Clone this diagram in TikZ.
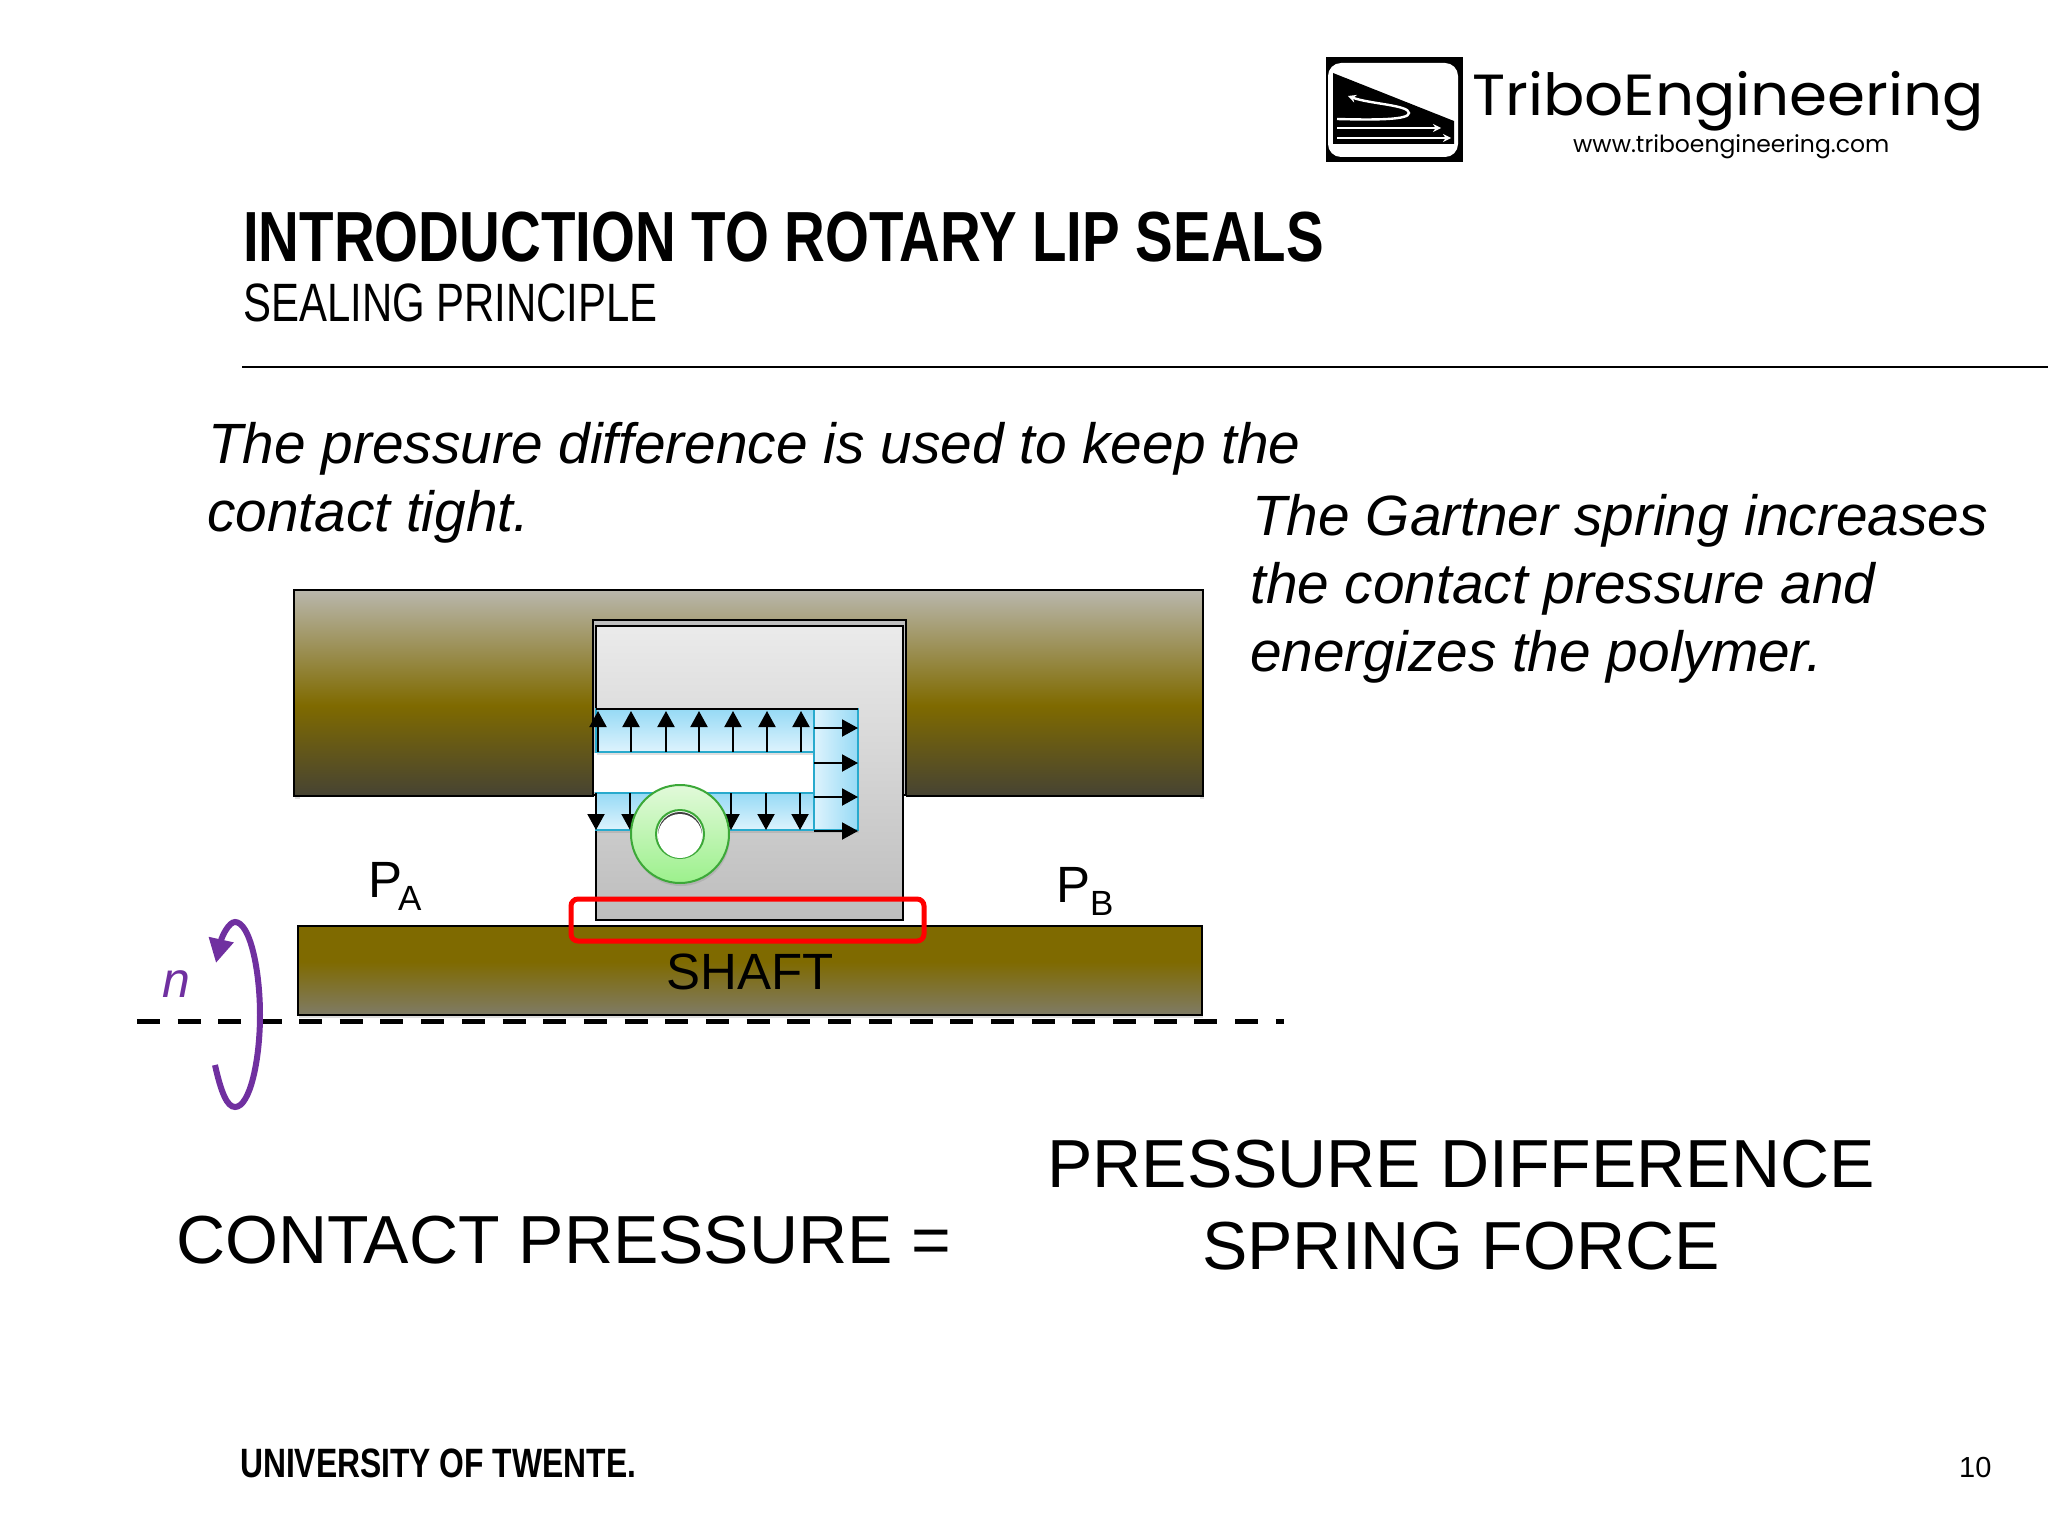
\documentclass[tikz,border=0pt]{standalone}
\usepackage{fontspec}
\setmainfont{Liberation Sans}
\newfontfamily\titlefont[FakeStretch=0.795]{Liberation Sans}
\newfontfamily\narrowfont[FakeStretch=0.776]{Liberation Sans}
\newfontfamily\logofont[FakeStretch=1.055]{Poppins}
\newfontfamily\sitefont{Poppins}
\usetikzlibrary{arrows.meta,positioning,shadows}
\definecolor{olive}{RGB}{127,106,0}
\definecolor{rotpurple}{RGB}{112,48,160}
\definecolor{bandedge}{RGB}{40,170,205}
\definecolor{bandlight}{RGB}{222,243,253}
\definecolor{banddark}{RGB}{150,218,245}
\pgfdeclareverticalshading{housingshade}{100bp}{color(0bp)=(black!75!olive!60!gray); color(25bp)=(black!75!olive!60!gray); color(47bp)=(olive); color(75bp)=(gray!50!white!90!olive); color(100bp)=(gray!50!white!90!olive)}
\pgfdeclareverticalshading{shaftshade}{100bp}{color(0bp)=(gray!80!olive); color(25bp)=(gray!80!olive); color(55bp)=(olive); color(75bp)=(olive); color(100bp)=(olive)}
\begin{document}
\begin{tikzpicture}[
  x=1pt,y=-1pt,
  softshadow/.style={drop shadow={shadow xshift=1pt,shadow yshift=-3pt,opacity=.25}},
  housingbox/.style={draw=black,line width=1.6pt,shading=housingshade,softshadow},
  shaftbox/.style={draw=black,line width=1.6pt,shading=shaftshade,softshadow},
  sealbox/.style={draw=black,line width=1.6pt,top color=black!8,bottom color=black!26},
  bandv/.style={draw=bandedge,line width=2pt,top color=banddark,bottom color=bandlight,softshadow},
  bandh/.style={draw=bandedge,line width=2pt,left color=bandlight,right color=banddark,softshadow},
  arr/.style={-{Triangle[length=16pt,width=17pt]},line width=2pt},
  logoarr/.style={-{Stealth[length=8pt,width=8pt]},white,line width=2.4pt},
  axisline/.style={line width=5pt,dash pattern=on 23pt off 17.7pt},
  titletext/.style={anchor=base west,inner sep=0pt,font=\fontsize{71}{75}\selectfont\titlefont\bfseries},
  subtext/.style={anchor=base west,inner sep=0pt,font=\fontsize{54}{58}\selectfont\narrowfont},
  notetext/.style={anchor=base west,inner sep=0pt,font=\fontsize{56.8}{68}\selectfont\itshape},
  labeltext/.style={anchor=base west,inner sep=0pt,font=\fontsize{51}{54}\selectfont},
  subtextlabel/.style={anchor=base west,inner sep=0pt,font=\fontsize{35}{38}\selectfont},
  eqtext/.style={anchor=base,inner sep=0pt,font=\fontsize{68}{72}\selectfont}
]
\useasboundingbox (0,0) rectangle (2048,1536);
% logo
\fill[black] (1326,57) rectangle (1463,162);
\fill[white,rounded corners=13pt] (1328,63) rectangle (1458,157);
\fill[black] (1333,73) -- (1454,121) -- (1454,144) -- (1333,144) -- cycle;
\draw[logoarr] (1337,119) .. controls (1375,120) and (1409,120) .. (1409,113) .. controls (1409,105) and (1370,104) .. (1348,96);
\draw[logoarr] (1337,128) -- (1441,128);
\draw[logoarr] (1337,138) -- (1451,138);
\node[anchor=base west,inner sep=0pt,font=\fontsize{58}{62}\selectfont\logofont] (tribo) at (1472,116) {TriboEngineering};
\node[anchor=base west,inner sep=0pt,font=\fontsize{23.5}{26}\selectfont\sitefont] (site) at (1573,153) {www.triboengineering.com};
% heading
\node[titletext] (title) at (243,261) {INTRODUCTION TO ROTARY LIP SEALS};
\node[subtext] (subtitle) at (243,321) {SEALING PRINCIPLE};
\draw[line width=2.4pt] (242,367) -- (2048,367);
\node[notetext] (noteA1) at (208,463) {The pressure difference is used to keep the};
\node[notetext] (noteA2) at (207,531) {contact tight.};
\node[notetext] (noteB1) at (1252,535) {The Gartner spring increases};
\node[notetext] (noteB2) at (1250,603) {the contact pressure and};
\node[notetext] (noteB3) at (1250,671) {energizes the polymer.};
% housing and seal
\path[housingbox] (294,590) rectangle (1203,796);
\fill[white] (594,700) rectangle (906,797);
\draw[line width=1.6pt,fill=black!25] (593,620) -- (906,620) -- (906,795) -- (593,795) -- cycle;
\fill[white] (300,797) rectangle (1200,900);
\path[sealbox] (596,626) rectangle (903,920);
\fill[white] (594,753) rectangle (814,792);
\path[bandv] (596,709) rectangle (814,752);
\path[bandv] (596,793) rectangle (814,830);
\path[bandh] (814,709) rectangle (858,830);
\draw[line width=1.6pt] (596,709) -- (858,709);
% pressure arrows
\draw[arr] (598,752) -- (598,711);
\draw[arr] (631,752) -- (631,711);
\draw[arr] (666,752) -- (666,711);
\draw[arr] (699,752) -- (699,711);
\draw[arr] (733,752) -- (733,711);
\draw[arr] (767,752) -- (767,711);
\draw[arr] (801,752) -- (801,711);
\draw[arr] (596,793) -- (596,830);
\draw[arr] (630,793) -- (630,830);
\draw[arr] (663,793) -- (663,830);
\draw[arr] (697,793) -- (697,830);
\draw[arr] (731,793) -- (731,830);
\draw[arr] (766,793) -- (766,830);
\draw[arr] (800,793) -- (800,830);
\draw[arr] (814,728) -- (858,728);
\draw[arr] (814,763) -- (858,763);
\draw[arr] (814,797) -- (858,797);
\draw[arr] (814,831) -- (858,831);
% spring
\path[draw={rgb,255:red,60;green,168;blue,56},line width=2pt,top color={rgb,255:red,226;green,250;blue,218},bottom color={rgb,255:red,156;green,240;blue,140},softshadow] (680,834) circle[radius=49];
\path[draw={rgb,255:red,60;green,168;blue,56},line width=2pt,fill=white] (680,834) circle[radius=24];
\fill[black!75] (680,834) circle[radius=22];
\fill[white] (680,836) circle[radius=22];
% shaft
\path[shaftbox] (298,926) rectangle (1202,1015);
\draw[red,line width=5pt,rounded corners=7pt] (571,899) rectangle (924,941);
\node[labeltext,anchor=base] (shaft) at (750,989) {SHAFT};
\node[labeltext] (pa) at (368,897) {P};
\node[subtextlabel] (pasub) at (398,910) {A};
\node[labeltext] (pb) at (1056,902) {P};
\node[subtextlabel] (pbsub) at (1090,915) {B};
% axis and rotation
\coordinate (axisA) at (137,1021);
\coordinate (axisB) at (282,1021);
\coordinate (axisC) at (299,1021);
\coordinate (axisD) at (1284,1021);
\draw[axisline] (axisA) -- (axisB);
\draw[axisline] (axisC) -- (axisD);
\draw[rotpurple,line width=6pt,-{Triangle[length=24pt,width=24pt]}] (215,1065) .. controls (221,1092) and (227,1107) .. (235,1107) .. controls (250,1107) and (260,1060) .. (260,1015) .. controls (260,970) and (250,922) .. (235,922) .. controls (229,922) and (222,936) .. (216,963);
\node[anchor=base west,inner sep=0pt,rotpurple,font=\fontsize{50}{52}\selectfont\itshape] (rpm) at (162,997) {n};
% equation
\node[eqtext,anchor=base west] (contact) at (176,1263) {CONTACT PRESSURE =};
\node[eqtext] (numer) at (1461,1187) {PRESSURE DIFFERENCE};
\node[eqtext] (denom) at (1461,1269) {SPRING FORCE};
% footer
\node[anchor=base west,inner sep=0pt,font=\fontsize{41}{44}\selectfont\narrowfont\bfseries] (uni) at (240,1477) {UNIVERSITY OF TWENTE.};
\node[anchor=base west,inner sep=0pt,font=\fontsize{29}{32}\selectfont] (page) at (1959,1477) {10};
\end{tikzpicture}
\end{document}
